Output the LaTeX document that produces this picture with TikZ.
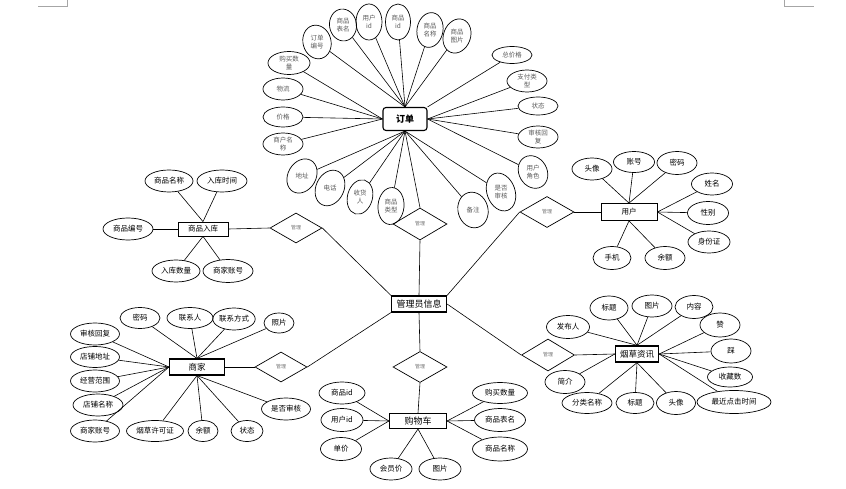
\documentclass[tikz,border=0pt]{standalone}
\usepackage{fontspec}
\setmainfont{Noto Sans CJK SC}
\usetikzlibrary{shapes.geometric}
\begin{document}
\begin{tikzpicture}[x=1pt,y=-1pt,
  attr/.style={ellipse, draw, line width=0.7pt, inner sep=0pt, minimum width=40pt, minimum height=22pt, font=\fontsize{7.5}{8}\selectfont},
  oattr/.style={ellipse, draw, line width=0.7pt, inner sep=0pt, align=center, minimum width=40pt, minimum height=22pt, font=\fontsize{6.5}{7.5}\selectfont, text=black!65},
  otext/.style={inner sep=0pt, align=center, font=\fontsize{6.5}{7.5}\selectfont, text=black!65},
  ent/.style={draw, line width=1pt, inner sep=0pt, minimum height=16pt, font=\fontsize{8.5}{9}\selectfont},
  rel/.style={diamond, draw, line width=0.7pt, inner sep=0pt, minimum width=54pt, minimum height=31pt, font=\fontsize{5}{5}\selectfont, text=black!55},
  link/.style={line width=0.6pt},
  cornermark/.style={draw=black!35, line width=0.5pt}]
\useasboundingbox (0,0) rectangle (846,489);
% page corner marks
\coordinate (m1) at (38,6); \coordinate (m2) at (67,6); \coordinate (m3) at (67,0);
\coordinate (m4) at (784,0); \coordinate (m5) at (784,6); \coordinate (m6) at (814,6);
\draw[cornermark] (m1) -- (m2) -- (m3);
\draw[cornermark] (m4) -- (m5) -- (m6);

% ===== 订单 =====
\node[ent, rounded corners=3pt, minimum width=44pt, minimum height=23pt, line width=1.1pt, font=\fontsize{9}{9}\bfseries] (order) at (405,119) {订单};
\node[oattr, rotate=15, minimum width=28pt, minimum height=34pt] (o1) at (317,42) {};
\node[otext] (t1) at (o1.center) {订单\\编号};
\node[oattr, rotate=8, minimum width=27pt, minimum height=32pt] (o2) at (343,25) {};
\node[otext] (t2) at (o2.center) {商品\\表名};
\node[oattr, minimum width=26pt, minimum height=36pt] (o3) at (369,22) {用户\\id};
\node[oattr, minimum width=25pt, minimum height=36pt] (o4) at (398,22) {商品\\id};
\node[oattr, rotate=-10, minimum width=26pt, minimum height=35pt] (o5) at (430,30) {};
\node[otext] (t5) at (o5.center) {商品\\名称};
\node[oattr, rotate=-20, minimum width=27pt, minimum height=35pt] (o6) at (457,36) {};
\node[otext] (t6) at (o6.center) {商品\\图片};
\node[oattr, minimum width=42pt, minimum height=23pt] (o7) at (289,63) {购买数\\量};
\node[oattr] (o8) at (283,89) {物流};
\node[oattr, minimum height=20pt] (o9) at (283,117) {价格};
\node[oattr] (o10) at (283,144) {商户名\\称};
\node[oattr, rotate=-30, minimum width=28pt, minimum height=36pt] (o11) at (302,176) {};
\node[otext] (t11) at (o11.center) {地址};
\node[oattr, rotate=-25, minimum width=28pt, minimum height=37pt] (o12) at (330,188) {};
\node[otext] (t12) at (o12.center) {电话};
\node[oattr, rotate=-15, minimum width=25pt, minimum height=35pt] (o13) at (360,197) {};
\node[otext] (t13) at (o13.center) {收货\\人};
\node[oattr, rotate=-5, minimum width=26pt, minimum height=37pt] (o14) at (391,206) {};
\node[otext] (t14) at (o14.center) {商品\\类型};
\node[oattr, rotate=15, minimum width=30pt, minimum height=36pt] (o15) at (473,210) {};
\node[otext] (t15) at (o15.center) {备注};
\node[oattr, rotate=20, minimum width=28pt, minimum height=39pt] (o16) at (501,192) {};
\node[otext] (t16) at (o16.center) {是否\\审核};
\node[oattr, rotate=30, minimum width=28pt, minimum height=34pt] (o17) at (533,172) {};
\node[otext] (t17) at (o17.center) {用户\\角色};
\node[oattr] (o18) at (538,137) {审核回\\复};
\node[oattr, minimum height=18pt] (o19) at (538,106) {状态};
\node[oattr] (o20) at (527,81) {支付类\\型};
\node[oattr, minimum height=17pt] (o21) at (512,55) {总价格};
\foreach \n in {o1,o2,o3,o4,o5,o6} \draw[link] (\n) -- (order.north);
\foreach \n in {o7,o8,o9,o10} \draw[link] (\n) -- (order.west);
\foreach \n in {o11,o12,o13,o14,o15,o16} \draw[link] (\n) -- (order.south);
\foreach \n in {o17,o18,o19,o20} \draw[link] (\n) -- (order.east);
\draw[link] (o21) -- (order.north east);

% ===== relationships =====
\node[rel, minimum height=32pt] (d1) at (420,224) {管理};
\node[rel, minimum width=52pt, minimum height=30pt] (d2) at (296,228) {管理};
\node[rel] (d3) at (547,212) {管理};
\node[rel, minimum width=52pt, minimum height=30pt] (d4) at (281,367) {管理};
\node[rel, minimum width=53pt, minimum height=32pt] (d5) at (548,355) {管理};
\node[rel] (d6) at (420,367) {管理};

% ===== 管理员信息 =====
\node[ent, minimum width=55pt, line width=1.2pt, font=\fontsize{9}{9}\selectfont] (admin) at (419,304) {管理员信息};
\draw[link] (order.south) -- (d1.north);
\draw[link] (admin.north) -- (d1.south);
\draw[link] (admin.north west) -- (d2.east);
\draw[link] (admin.north east) -- (d3.west);
\draw[link] (admin.south west) -- (d4.east);
\draw[link] (admin.east) -- (d5.west);
\draw[link] (admin.south) -- (d6.north);

% ===== 商品入库 =====
\node[ent, minimum width=50pt, minimum height=14pt, line width=0.8pt, font=\fontsize{7.5}{8}\selectfont] (rk) at (203,229) {商品入库};
\node[attr, minimum width=48pt] (rk1) at (169,181) {商品名称};
\node[attr, minimum width=50pt] (rk2) at (222,181) {入库时间};
\node[attr, minimum width=50pt] (rk3) at (128,229) {商品编号};
\node[attr, minimum width=48pt] (rk4) at (176,271) {入库数量};
\node[attr, minimum width=50pt, minimum height=23pt] (rk5) at (228,271) {商家账号};
\foreach \n in {rk1,rk2} \draw[link] (\n) -- (rk.north);
\draw[link] (rk3) -- (rk.west);
\foreach \n in {rk4,rk5} \draw[link] (\n) -- (rk.south);
\draw[link] (d2.west) -- (rk.east);

% ===== 用户 =====
\node[ent, minimum width=56pt, minimum height=17pt, line width=0.8pt, font=\fontsize{7.5}{8}\selectfont] (yh) at (629,212) {用户};
\node[attr] (yh1) at (592,169) {头像};
\node[attr, minimum width=41pt, minimum height=21pt] (yh2) at (634,162) {账号};
\node[attr, minimum height=23pt] (yh3) at (677,163) {密码};
\node[attr, minimum width=41pt] (yh4) at (712,184) {姓名};
\node[attr, minimum width=41pt, minimum height=23pt] (yh5) at (708,213) {性别};
\node[attr, minimum width=42pt] (yh6) at (709,242) {身份证};
\node[attr, minimum width=38pt, minimum height=23pt] (yh7) at (612,258) {手机};
\node[attr, minimum height=23pt] (yh8) at (665,258) {余额};
\foreach \n in {yh1,yh2,yh3} \draw[link] (\n) -- (yh.north);
\foreach \n in {yh4,yh5,yh6} \draw[link] (\n) -- (yh.east);
\foreach \n in {yh7,yh8} \draw[link] (\n) -- (yh.south);
\draw[link] (d3.east) -- (yh.west);

% ===== 商家 =====
\node[ent, minimum width=55pt, line width=1.1pt, font=\fontsize{8.5}{9}\selectfont] (sj) at (197,367) {商家};
\node[attr, minimum height=21pt] (sj1) at (140,318) {密码};
\node[attr, minimum width=46pt, minimum height=21pt] (sj2) at (190,318) {联系人};
\node[attr, minimum width=41pt] (sj3) at (234,319) {联系方式};
\node[attr, minimum width=30pt, minimum height=20pt] (sj4) at (279,323) {照片};
\node[attr, minimum width=49pt] (sj5) at (95,334) {审核回复};
\node[attr, minimum width=49pt, minimum height=21pt] (sj6) at (95,357) {店铺地址};
\node[attr, minimum width=49pt] (sj7) at (95,381) {经营范围};
\node[attr, minimum width=50pt] (sj8) at (98,405) {店铺名称};
\node[attr, minimum width=49pt] (sj9) at (95,431) {商家账号};
\node[attr, minimum width=57pt, minimum height=21pt] (sj10) at (155,431) {烟草许可证};
\node[attr, minimum width=30pt, minimum height=21pt] (sj11) at (203,431) {余额};
\node[attr, minimum width=32pt, minimum height=21pt] (sj12) at (247,431) {状态};
\node[attr, minimum width=49pt] (sj13) at (286,409) {是否审核};
\foreach \n in {sj1,sj2,sj3,sj4} \draw[link] (\n) -- (sj.north);
\foreach \n in {sj5,sj6,sj7,sj8,sj9} \draw[link] (\n) -- (sj.west);
\foreach \n in {sj10,sj11,sj12,sj13} \draw[link] (\n) -- (sj.south);
\draw[link] (d4.west) -- (sj.east);

% ===== 烟草资讯 =====
\node[ent, minimum width=43pt, line width=1.4pt, font=\fontsize{8.5}{9}\selectfont] (yc) at (637,354) {烟草资讯};
\node[attr, minimum width=43pt, minimum height=23pt] (yc1) at (568,327) {发布人};
\node[attr, minimum width=38pt, minimum height=24pt] (yc2) at (609,308) {标题};
\node[attr] (yc3) at (652,306) {图片};
\node[attr, minimum width=38pt, minimum height=23pt] (yc4) at (694,307) {内容};
\node[attr, minimum height=24pt] (yc5) at (720,325) {赞};
\node[attr, minimum height=24pt] (yc6) at (731,351) {踩};
\node[attr, minimum width=45pt, minimum height=20pt] (yc7) at (730,377) {收藏数};
\node[attr, minimum width=74pt, minimum height=23pt] (yc8) at (734,402) {最近点击时间};
\node[attr, minimum width=39pt, minimum height=23pt] (yc9) at (676,403) {头像};
\node[attr, minimum width=38pt, minimum height=21pt] (yc10) at (635,403) {标题};
\node[attr, minimum width=50pt, minimum height=21pt] (yc11) at (587,403) {分类名称};
\node[attr, minimum height=23pt] (yc12) at (565,382) {简介};
\foreach \n in {yc1,yc2,yc3,yc4} \draw[link] (\n) -- (yc.north);
\foreach \n in {yc5,yc6,yc7,yc8} \draw[link] (\n) -- (yc.east);
\foreach \n in {yc9,yc10,yc11} \draw[link] (\n) -- (yc.south);
\draw[link] (yc12) -- (yc.west);
\draw[link] (d5.east) -- (yc.west);

% ===== 购物车 =====
\node[ent, minimum width=57pt, minimum height=15pt, line width=1.1pt, font=\fontsize{9}{9}\selectfont] (gw) at (418,421) {购物车};
\node[attr, minimum width=46pt] (gw1) at (342,393) {商品id};
\node[attr, minimum width=42pt, minimum height=23pt] (gw2) at (342,420) {用户id};
\node[attr, minimum width=41pt, minimum height=23pt] (gw3) at (341,449) {单价};
\node[attr, minimum width=42pt] (gw4) at (391,469) {会员价};
\node[attr, minimum width=42pt] (gw5) at (440,469) {图片};
\node[attr, minimum width=55pt, minimum height=21pt] (gw6) at (500,393) {购买数量};
\node[attr, minimum width=51pt, minimum height=23pt] (gw7) at (500,420) {商品表名};
\node[attr, minimum width=55pt, minimum height=24pt] (gw8) at (500,449) {商品名称};
\foreach \n in {gw1,gw2,gw3} \draw[link] (\n) -- (gw.west);
\foreach \n in {gw4,gw5} \draw[link] (\n) -- (gw.south);
\foreach \n in {gw6,gw7,gw8} \draw[link] (\n) -- (gw.east);
\draw[link] (d6.south) -- (gw.north);
\end{tikzpicture}
\end{document}
